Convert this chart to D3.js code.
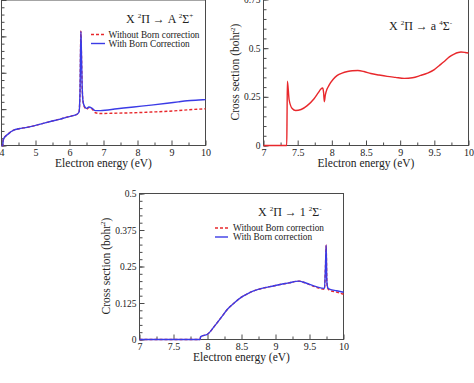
<!DOCTYPE html>
<html>
<head>
<meta charset="utf-8">
<script src="https://cdn.jsdelivr.net/npm/d3@7/dist/d3.min.js"></script>
<style>
html,body{margin:0;padding:0;background:#fff;}
svg{display:block;}
svg text{font-family:"Liberation Serif","Times New Roman","DejaVu Serif",serif !important;fill:#222;}
</style>
</head>
<body>
<svg id="chart" width="474" height="383"></svg>
<script>
// ---------- DATA ----------
// Panel 1: X 2Π -> A 2Σ+
const p1Energy  = [4.0, 4.04, 4.05, 4.2, 4.36, 4.51, 4.75, 4.95, 5.2, 5.44, 5.7, 5.93, 6.1, 6.22, 6.28, 6.31, 6.335, 6.35, 6.37, 6.40, 6.45, 6.5, 6.57, 6.67, 6.76, 6.91, 7.4, 7.89, 8.4, 8.87, 9.2, 9.46, 9.8, 10.0];
const p1With    = [0, 0, 0.08, 0.16, 0.21, 0.23, 0.25, 0.27, 0.30, 0.33, 0.36, 0.39, 0.41, 0.43, 0.46, 0.75, 1.57, 1.3, 0.85, 0.6, 0.53, 0.51, 0.53, 0.51, 0.48, 0.48, 0.505, 0.53, 0.555, 0.58, 0.60, 0.615, 0.625, 0.63];
const p1Without = [0, 0, 0.08, 0.16, 0.21, 0.23, 0.25, 0.27, 0.30, 0.33, 0.36, 0.39, 0.41, 0.43, 0.46, 0.75, 1.57, 1.3, 0.85, 0.6, 0.52, 0.50, 0.52, 0.50, 0.45, 0.44, 0.445, 0.45, 0.46, 0.47, 0.48, 0.49, 0.50, 0.505];

// Panel 2: X 2Π -> a 4Σ-
const p2Energy = [7.0, 7.34, 7.345, 7.35, 7.375, 7.42, 7.47, 7.55, 7.64, 7.74, 7.80, 7.84, 7.865, 7.88, 7.89, 7.905, 7.93, 7.96, 8.02, 8.08, 8.15, 8.23, 8.30, 8.38, 8.47, 8.57, 8.69, 8.81, 8.93, 9.06, 9.18, 9.30, 9.40, 9.50, 9.57, 9.64, 9.72, 9.79, 9.85, 9.89, 9.95, 10.0];
const p2Values = [0, 0, 0.17, 0.33, 0.235, 0.19, 0.18, 0.185, 0.205, 0.24, 0.27, 0.29, 0.295, 0.27, 0.225, 0.26, 0.29, 0.31, 0.34, 0.36, 0.372, 0.38, 0.384, 0.385, 0.38, 0.37, 0.362, 0.355, 0.35, 0.345, 0.348, 0.36, 0.372, 0.39, 0.41, 0.43, 0.455, 0.47, 0.478, 0.48, 0.478, 0.475];

// Panel 3: X 2Π -> 1 2Σ-
const p3Energy  = [7.0, 7.89, 7.9, 8.0, 8.1, 8.2, 8.3, 8.4, 8.5, 8.6, 8.7, 8.8, 8.9, 9.0, 9.1, 9.2, 9.3, 9.35, 9.4, 9.5, 9.6, 9.72, 9.735, 9.745, 9.755, 9.77, 9.8, 9.9, 10.0];
const p3With    = [0, 0, 0.01, 0.018, 0.045, 0.075, 0.105, 0.127, 0.145, 0.158, 0.168, 0.175, 0.18, 0.185, 0.19, 0.194, 0.199, 0.2, 0.197, 0.189, 0.181, 0.175, 0.25, 0.323, 0.2, 0.177, 0.172, 0.167, 0.162];
const p3Without = [0, 0, 0.01, 0.018, 0.045, 0.075, 0.105, 0.127, 0.145, 0.158, 0.168, 0.175, 0.18, 0.185, 0.19, 0.194, 0.199, 0.2, 0.197, 0.188, 0.179, 0.172, 0.25, 0.323, 0.2, 0.174, 0.168, 0.162, 0.155];

// Tick labels
const xTicksP1 = [4, 5, 6, 7, 8, 9, 10];
const xTickLabelsP1 = ["4", "5", "6", "7", "8", "9", "10"];
const xTicksP23 = [7, 7.5, 8, 8.5, 9, 9.5, 10];
const xTickLabelsP23 = ["7", "7.5", "8", "8.5", "9", "9.5", "10"];
const yTicksP2 = [0, 0.25, 0.5, 0.75];
const yTickLabelsP2 = ["0", "0.25", "0.5", "0.75"];
const yTicksP3 = [0, 0.125, 0.25, 0.375, 0.5];
const yTickLabelsP3 = ["0", "0.125", "0.25", "0.375", "0.5"];

const legendLabelsP1 = ["Without Born correction", "With Born Correction"];
const legendLabelsP3 = ["Without Born correction", "With Born correction"];
const xTitle = "Electron energy (eV)";

// ---------- DRAWING ----------
const RED = "#e8282c", BLUE = "#3b3be6", AXIS = "#4a4a4a";
const FONT = '"Liberation Serif","Times New Roman","DejaVu Serif",serif';
const svg = d3.select("#chart");
svg.append("rect").attr("width", 474).attr("height", 383).attr("fill", "#fff");

function drawPanel(cfg) {
  const x = d3.scaleLinear().domain(cfg.xDomain).range(cfg.xRange);
  const y = d3.scaleLinear().domain(cfg.yDomain).range(cfg.yRange);
  const g = svg.append("g").style("font-family", FONT);

  // minor ticks
  g.append("g").attr("transform", `translate(0,${cfg.yRange[0]})`)
    .call(d3.axisBottom(x).tickValues(cfg.xMinor).tickSizeInner(-3).tickSizeOuter(0).tickFormat(""))
    .call(s => s.select(".domain").remove())
    .call(s => s.selectAll("line").attr("stroke", AXIS));
  g.append("g").attr("transform", `translate(${cfg.xRange[0]},0)`)
    .call(d3.axisLeft(y).tickValues(cfg.yMinor).tickSizeInner(-3).tickSizeOuter(0).tickFormat(""))
    .call(s => s.select(".domain").remove())
    .call(s => s.selectAll("line").attr("stroke", AXIS));

  // major ticks
  const xa = g.append("g").attr("transform", `translate(0,${cfg.yRange[0]})`)
    .call(d3.axisBottom(x).tickValues(cfg.xTicks).tickSizeInner(-5).tickSizeOuter(0).tickPadding(3)
      .tickFormat((d, i) => cfg.xLabels[i]));
  xa.attr("font-family", null);
  xa.select(".domain").remove();
  xa.selectAll("line").attr("stroke", AXIS);
  xa.selectAll("text").attr("font-size", 10).attr("fill", "#333");

  const ya = g.append("g").attr("transform", `translate(${cfg.xRange[0]},0)`)
    .call(d3.axisLeft(y).tickValues(cfg.yTicks).tickSizeInner(-5).tickSizeOuter(0).tickPadding(3)
      .tickFormat((d, i) => cfg.yLabels ? cfg.yLabels[i] : ""));
  ya.attr("font-family", null);
  ya.select(".domain").remove();
  ya.selectAll("line").attr("stroke", AXIS);
  ya.selectAll("text").attr("font-size", 9.5).attr("fill", "#333");

  // frame
  g.append("rect")
    .attr("x", cfg.xRange[0]).attr("y", cfg.yRange[1])
    .attr("width", cfg.xRange[1] - cfg.xRange[0]).attr("height", cfg.yRange[0] - cfg.yRange[1])
    .attr("fill", "none").attr("stroke", AXIS).attr("stroke-width", 1);

  // series
  const line = d3.line().x(d => x(d[0])).y(d => y(d[1])).curve(d3.curveMonotoneX);
  cfg.series.forEach(s => {
    g.append("path").datum(s.xs.map((e, i) => [e, s.ys[i]]))
      .attr("d", line).attr("fill", "none").attr("stroke", s.color)
      .attr("stroke-width", 1.4).attr("stroke-dasharray", s.dash || null);
  });

  // x title
  g.append("text").attr("x", (cfg.xRange[0] + cfg.xRange[1]) / 2).attr("y", cfg.yRange[0] + 21)
    .attr("text-anchor", "middle").attr("font-size", 11.5).text(xTitle);

  // y title
  if (cfg.yTitlePos) {
    const t = g.append("text").attr("transform", `translate(${cfg.yTitlePos[0]},${cfg.yTitlePos[1]}) rotate(-90)`)
      .attr("text-anchor", "middle").attr("font-size", 11.5);
    t.append("tspan").text("Cross section (bohr");
    t.append("tspan").attr("font-size", 7).attr("dy", -4.5).text("2");
    t.append("tspan").attr("dy", 4.5).text(")");
  }

  // title
  const tt = g.append("text").attr("x", cfg.title.x).attr("y", cfg.title.y).attr("font-size", 12);
  tt.append("tspan").text("X ");
  tt.append("tspan").attr("font-size", 7).attr("dy", -5.5).text("2");
  tt.append("tspan").attr("dy", 5.5).text("Π → " + cfg.title.to + " ");
  tt.append("tspan").attr("font-size", 7).attr("dy", -5.5).text(cfg.title.mult);
  tt.append("tspan").attr("dy", 5.5).text("Σ");
  tt.append("tspan").attr("font-size", 7).attr("dy", -5.5).text(cfg.title.sign);

  // legend
  if (cfg.legend) {
    cfg.legend.items.forEach((it, i) => {
      const ly = cfg.legend.y + i * cfg.legend.step;
      g.append("line").attr("x1", cfg.legend.x).attr("x2", cfg.legend.x + cfg.legend.len)
        .attr("y1", ly).attr("y2", ly).attr("stroke", it.color).attr("stroke-width", 1.4)
        .attr("stroke-dasharray", it.dash || null);
      g.append("text").attr("x", cfg.legend.x + cfg.legend.len + cfg.legend.gap).attr("y", ly + 3)
        .attr("font-size", 9.3).text(it.label);
    });
  }
}

const range = (a, b, s) => d3.range(a, b + s / 2, s);

drawPanel({
  xDomain: [4, 10], xRange: [1.5, 205.5],
  yDomain: [0, 2], yRange: [145.5, 0],
  xTicks: xTicksP1, xLabels: xTickLabelsP1, xMinor: range(4.5, 9.5, 1),
  yTicks: range(0, 2, 0.5), yLabels: null, yMinor: range(0, 2, 0.1),
  series: [
    {xs: p1Energy, ys: p1Without, color: RED, dash: "3,2"},
    {xs: p1Energy, ys: p1With, color: BLUE}
  ],
  title: {x: 126, y: 23, to: "A", mult: "2", sign: "+"},
  legend: {x: 91, y: 34.5, step: 9, len: 14, gap: 3.5, items: [
    {label: legendLabelsP1[0], color: RED, dash: "3,2"},
    {label: legendLabelsP1[1], color: BLUE}
  ]}
});

drawPanel({
  xDomain: [7, 10], xRange: [263.5, 468.5],
  yDomain: [0, 0.75], yRange: [145.5, -0.5],
  xTicks: xTicksP23, xLabels: xTickLabelsP23, xMinor: range(7.25, 9.75, 0.5),
  yTicks: yTicksP2, yLabels: yTickLabelsP2, yMinor: range(0, 0.75, 0.05),
  series: [{xs: p2Energy, ys: p2Values, color: RED}],
  yTitlePos: [239, 72],
  title: {x: 389, y: 30, to: "a", mult: "4", sign: "-"}
});

drawPanel({
  xDomain: [7, 10], xRange: [139.5, 343.5],
  yDomain: [0, 0.5], yRange: [339.5, 193.5],
  xTicks: xTicksP23, xLabels: xTickLabelsP23, xMinor: range(7.25, 9.75, 0.5),
  yTicks: yTicksP3, yLabels: yTickLabelsP3, yMinor: range(0, 0.5, 0.025),
  series: [
    {xs: p3Energy, ys: p3Without, color: RED, dash: "3,2"},
    {xs: p3Energy, ys: p3With, color: BLUE}
  ],
  yTitlePos: [109.5, 266],
  title: {x: 258, y: 216, to: "1", mult: "2", sign: "-"},
  legend: {x: 215, y: 228, step: 9, len: 13, gap: 5, items: [
    {label: legendLabelsP3[0], color: RED, dash: "3,2"},
    {label: legendLabelsP3[1], color: BLUE}
  ]}
});
</script>
</body>
</html>
